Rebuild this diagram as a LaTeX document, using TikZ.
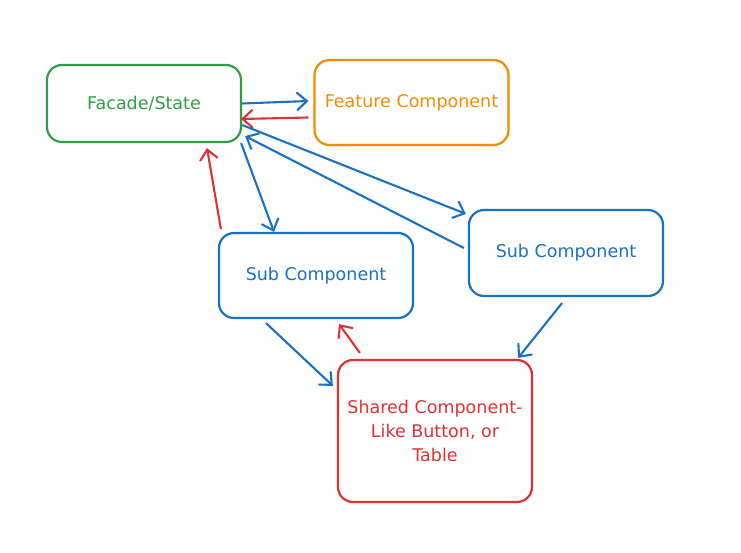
\documentclass[tikz,border=0pt]{standalone}
\usepackage{fontspec}
\setmainfont{DejaVu Sans}
\usetikzlibrary{arrows.meta,calc}
\definecolor{cgreen}{HTML}{2F9E44}
\definecolor{corange}{HTML}{F08C00}
\definecolor{cblue}{HTML}{1971C2}
\definecolor{cred}{HTML}{E03131}
\begin{document}
\begin{tikzpicture}[x=1pt,y=-1pt,
  box/.style={draw, line width=2.2pt, rounded corners=15pt, minimum width=194pt, inner sep=0pt, align=center, font=\fontsize{17.5}{24}\selectfont},
  conn/.style={line width=2.1pt, -{Straight Barb[length=10pt,width=18pt,line width=2.1pt]}}]
\useasboundingbox (0,0) rectangle (741,553);
\node[box, cgreen, minimum height=77pt] (fac) at (144,103.5) {Facade/State};
\node[box, corange, minimum height=85pt] (feat) at (411.5,102.5) {Feature Component};
\node[box, cblue, minimum height=85pt] (subL) at (316,275.5) {Sub Component};
\node[box, cblue, minimum height=86pt] (subR) at (566,253) {Sub Component};
\node[box, cred, minimum height=142pt] (shared) at (435,431) {Shared Component-\\Like Button, or\\Table};
% connectors
\draw[conn, cblue] (fac.east) -- ($(feat.west)+(-5,-1.5)$);
\draw[conn, cred] ($(feat.west)+(-5,15)$) -- ($(fac.east)+(-1,15.5)$);
\draw[conn, cblue] ($(fac.south east)+(-1,0)$) -- ($(subL.north)+(-42,0)$);
\draw[conn, cblue] ($(fac.east)+(0,21.5)$) -- ($(subR.north west)+(-2,5)$);
\draw[conn, cblue] ($(subR.west)+(-4,-5)$) -- ($(fac.south east)+(3,-7)$);
\draw[conn, cred] ($(subL.north west)+(3,-3)$) -- ($(fac.south)+(63,5)$);
\draw[conn, cblue] ($(subL.south)+(-50,4)$) -- ($(shared.north west)+(-4,27)$);
\draw[conn, cred] ($(shared.north west)+(23,-6)$) -- ($(subL.south)+(23,5)$);
\draw[conn, cblue] ($(subR.south)+(-4,6)$) -- ($(shared.north east)+(-15,-1)$);
\end{tikzpicture}
\end{document}
